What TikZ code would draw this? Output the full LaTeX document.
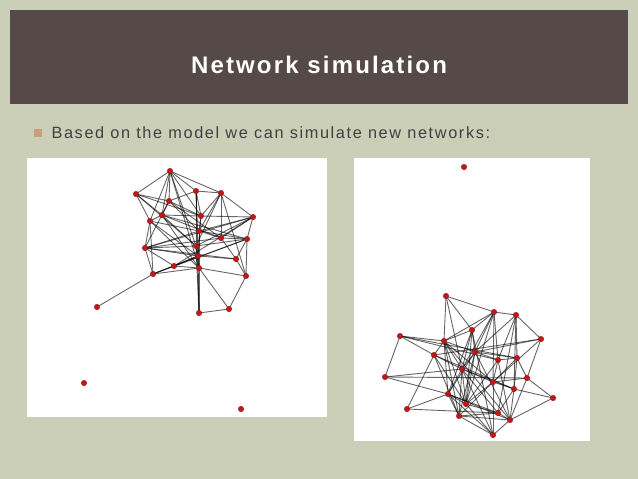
\documentclass[tikz,border=0pt]{standalone}
\usepackage{fontspec}
\setmainfont{Liberation Sans}
\newfontfamily\ttlfont[LetterSpace=9]{Liberation Sans}
\newfontfamily\bulfont[LetterSpace=10]{Liberation Sans}
\definecolor{slidebg}{HTML}{CCCFB8}
\definecolor{titlebg}{HTML}{554A48}
\definecolor{bulletc}{HTML}{C9A079}
\definecolor{txt}{HTML}{404040}
\definecolor{vred}{HTML}{C01818}
\tikzset{vtx/.style={circle,fill=vred,draw=vred!70!black,line width=0.3pt,inner sep=0pt,minimum size=5.5pt},
ed/.style={draw=black,line width=0.9pt,opacity=0.6},
panel/.style={fill=white,draw=none}}
\begin{document}
\begin{tikzpicture}[x=1pt,y=-1pt]
\fill[slidebg] (0,0) rectangle (638,479);
\useasboundingbox (0,0) rectangle (638,479);
\fill[titlebg] (10,10) rectangle (628,104);
\node[text=white,font=\ttlfont\bfseries\fontsize{24}{28}\selectfont] (title) at (319,65) {Network simulation};
\fill[bulletc] (34,129) rectangle (42,137);
\node[anchor=west,text=txt,font=\bulfont\fontsize{16.3}{19}\selectfont] (bul) at (48,133) {Based on the model we can simulate new networks:};
\fill[panel] (27,158) rectangle (327,417);
\fill[panel] (354,158) rectangle (590,441);
% left graph
\foreach \n/\x/\y in {A/170/171,B/136/194,C/196/191,D/221/193,E/169/201,F/162/215,G/201/216,H/253/217,I/150/221,J/199/231,K/221/238,L/247/239,M/145/248,N/196/246,O/198/256,P/236/259,Q/174/266,R/199/268,S/153/274,T/246/276,U/97/307,V/229/309,W/199/313,Y1/84/383,Y2/241/409}
  \coordinate (\n) at (\x,\y);
\foreach \a/\b in {A/B,A/E,A/C,A/D,A/F,A/I,A/G,A/N,B/E,B/F,B/I,C/D,C/G,C/N,C/R,C/W,C/E,D/H,D/G,D/K,D/J,D/T,E/F,E/G,E/M,F/G,F/I,F/N,F/L,G/J,G/O,H/L,H/J,H/N,H/M,I/M,I/S,I/J,J/L,J/K,J/R,J/M,K/L,K/P,K/M,L/T,L/P,L/N,M/N,M/Q,M/S,M/O,N/O,N/R,O/P,O/Q,Q/R,Q/S,R/S,R/T,R/W,R/V,P/T,T/V,V/W,S/U,N/W,O/W,Q/L,I/O,B/N,E/K,A/R,F/R,I/R,G/H,H/K,S/L,Q/H,E/J,M/P,S/O,D/N,B/G,F/K}
  \draw[ed] (\a) -- (\b);
\foreach \n in {A,B,C,D,E,F,G,H,I,J,K,L,M,N,O,P,Q,R,S,T,U,V,W,Y1,Y2}
  \node[vtx] (v\n) at (\n) {};
% right graph
\foreach \n/\x/\y in {a/446/296,b/494/312,c/516/315,d/472/330,e/400/336,f/444/341,g/541/339,h/475/352,i/434/355,j/498/360,k/517/358,l/462/369,m/385/377,n/527/378,o/493/382,p/514/389,q/448/394,r/553/398,s/466/404,t/407/409,u/498/413,v/459/416,w/510/420,x/493/435,z/464/167}
  \coordinate (\n) at (\x,\y);
\foreach \a/\b in {a/b,a/f,a/d,a/l,b/c,b/f,b/d,b/h,b/l,b/j,b/o,c/g,c/h,c/k,c/j,c/u,d/f,d/h,d/l,d/s,d/x,e/f,e/k,e/m,e/i,f/h,f/l,f/i,f/v,f/q,g/h,g/i,g/n,g/o,h/j,h/k,h/l,h/s,h/q,i/l,i/t,i/v,j/k,j/o,j/s,k/n,k/p,l/m,l/o,l/p,l/q,l/s,l/v,l/u,m/q,m/n,n/o,n/w,n/r,o/p,o/s,o/v,o/x,p/r,p/u,p/w,q/s,q/t,q/v,q/u,s/u,s/x,t/u,u/v,u/w,v/w,w/x,q/x,i/s,r/w,j/w,f/w,f/o,l/x,h/v,d/q,b/s,c/p,k/o,i/p,q/w,e/j,h/w,v/x,f/s}
  \draw[ed] (\a) -- (\b);
\foreach \n in {a,b,c,d,e,f,g,h,i,j,k,l,m,n,o,p,q,r,s,t,u,v,w,x,z}
  \node[vtx] (w\n) at (\n) {};
\end{tikzpicture}
\end{document}
